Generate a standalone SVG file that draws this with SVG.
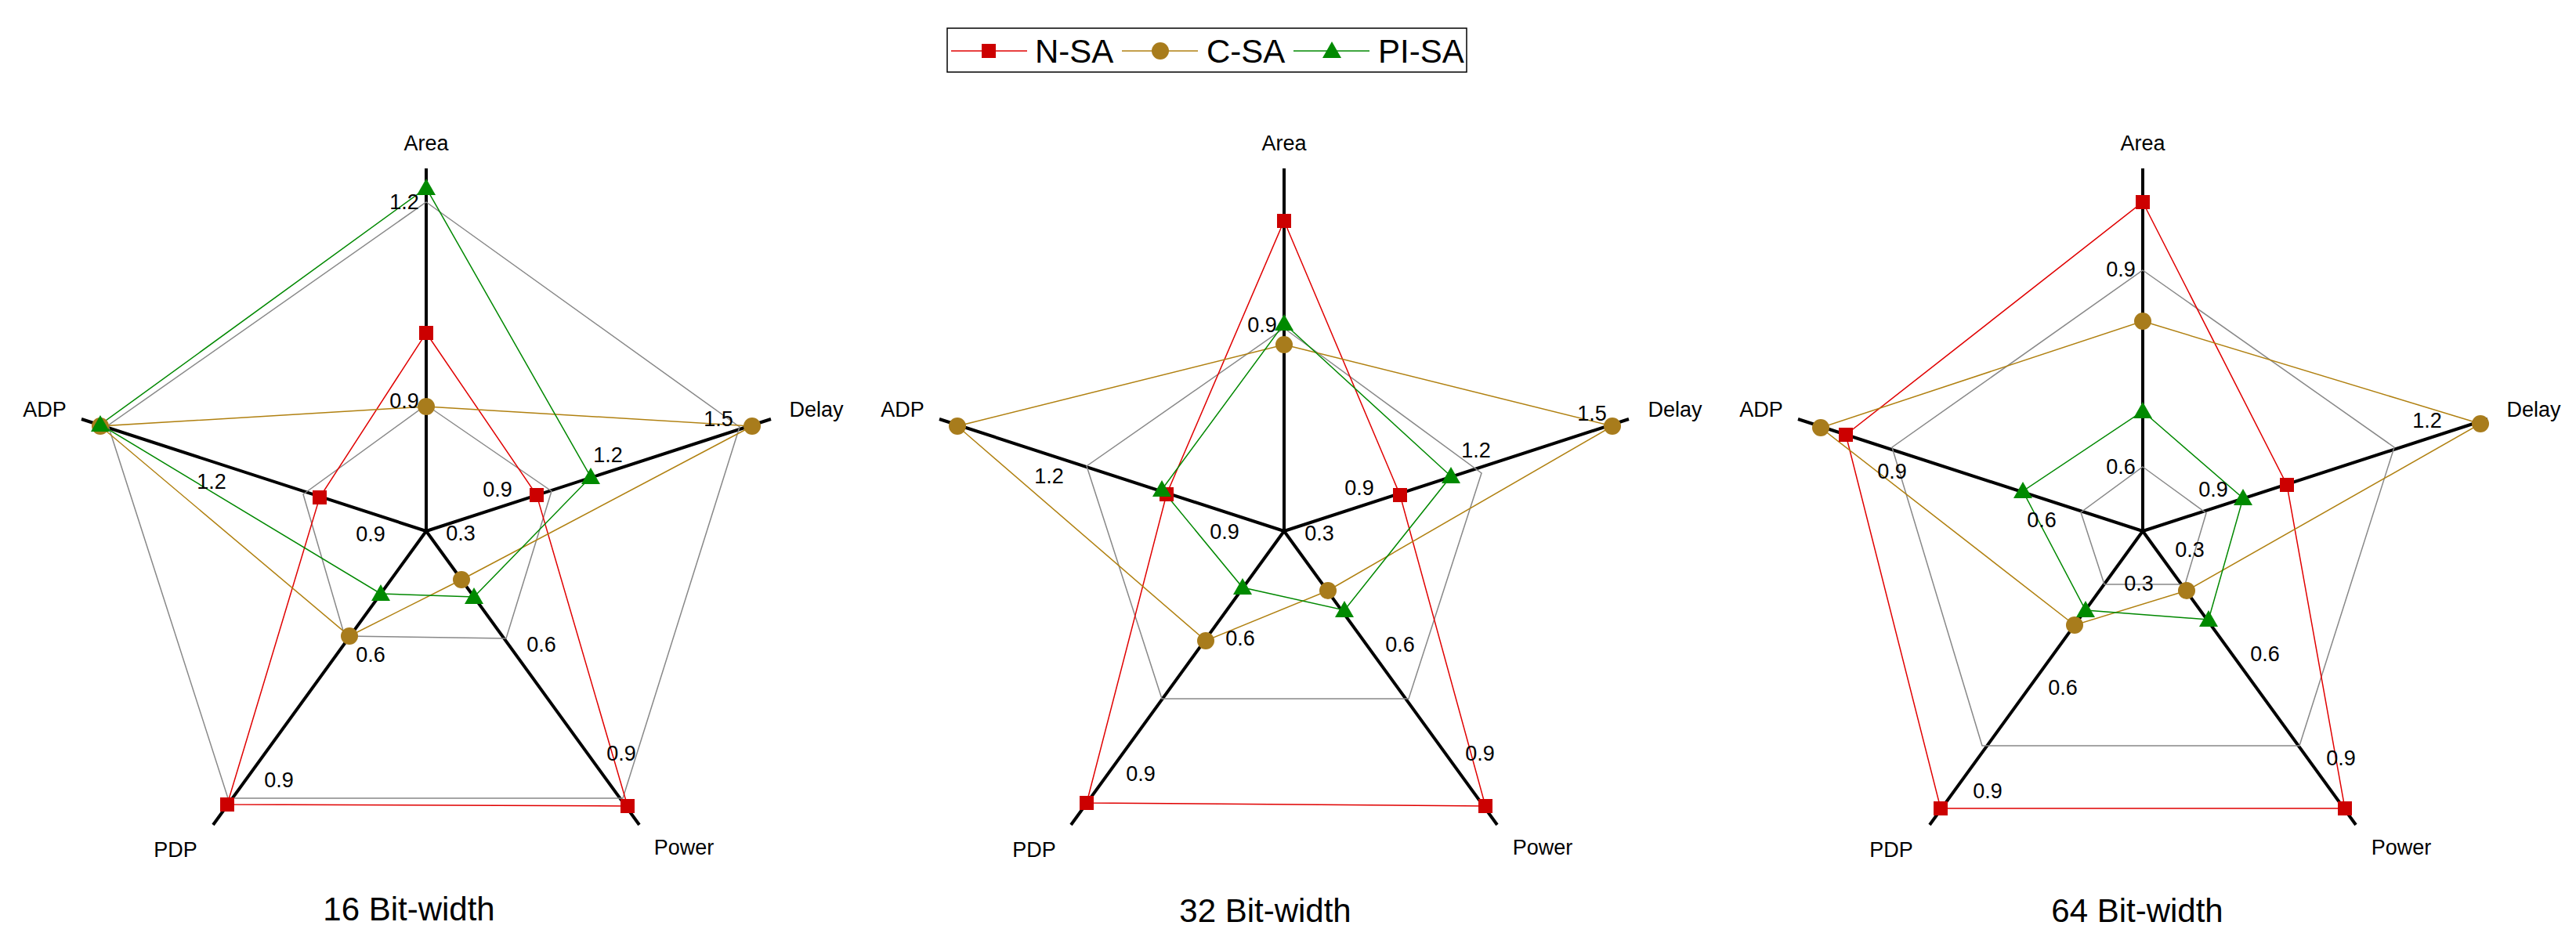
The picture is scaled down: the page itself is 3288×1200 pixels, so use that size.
<svg xmlns="http://www.w3.org/2000/svg" xmlns:xlink="http://www.w3.org/1999/xlink" width="3288" height="1200" viewBox="0 0 3288 1200">
<style>
text{font-family:"Liberation Sans",Arial,sans-serif;fill:#000;dominant-baseline:central}
.ax{stroke:#000;stroke-width:4;fill:none}
.gr{stroke:#888;stroke-width:1.5;fill:none}
.n{stroke:#e00000;stroke-width:1.5;fill:none}
.c{stroke:#b08010;stroke-width:1.5;fill:none}
.p{stroke:#008800;stroke-width:1.5;fill:none}
.tk{font-size:27px;text-anchor:middle}
.lb{font-size:27px;text-anchor:middle}
.tt{font-size:42px;text-anchor:middle}
.lg{font-size:42px}
</style>
<defs>
<rect id="sq" x="-9" y="-9" width="18" height="18" fill="#cc0000"/>
<circle id="ci" r="11" fill="#a87c1c"/>
<polygon id="tr" points="0,-12 12,9 -12,9" fill="#008a00"/>
</defs>
<g id="legend">
<rect x="1209" y="36" width="663" height="56" fill="#fff" stroke="#000" stroke-width="1.5"/>
<line x1="1214" y1="65" x2="1311" y2="65" class="n"/><use xlink:href="#sq" x="1262" y="65"/><text x="1321" y="65" class="lg">N-SA</text>
<line x1="1432" y1="65" x2="1529" y2="65" class="c"/><use xlink:href="#ci" x="1481" y="65"/><text x="1540" y="65" class="lg">C-SA</text>
<line x1="1651" y1="65" x2="1748" y2="65" class="p"/><use xlink:href="#tr" x="1700" y="65"/><text x="1759" y="65" class="lg">PI-SA</text>
</g>
<g id="chart16">
<path class="ax" d="M544,678V215M544,678L984,535M544,678L104,535M544,678L816,1053M544,678L272,1053"/>
<polygon class="gr" points="544,258 944,545 795,1019 291,1019 138,543"/>
<polygon class="gr" points="544,517 704,627 646,815 440,812 387,631"/>
<polygon class="n" points="544,425 685,632 801,1029 290,1027 408,635"/>
<polygon class="c" points="544,519 960,544 589,740 446,812 128,544"/>
<polygon class="p" points="544,240 754,609 605,762 486,758 128,542"/>
<use xlink:href="#sq" x="544" y="425"/><use xlink:href="#sq" x="685" y="632"/><use xlink:href="#sq" x="801" y="1029"/><use xlink:href="#sq" x="290" y="1027"/><use xlink:href="#sq" x="408" y="635"/>
<use xlink:href="#ci" x="544" y="519"/><use xlink:href="#ci" x="960" y="544"/><use xlink:href="#ci" x="589" y="740"/><use xlink:href="#ci" x="446" y="812"/><use xlink:href="#ci" x="128" y="544"/>
<use xlink:href="#tr" x="544" y="240"/><use xlink:href="#tr" x="754" y="609"/><use xlink:href="#tr" x="605" y="762"/><use xlink:href="#tr" x="486" y="758"/><use xlink:href="#tr" x="128" y="542"/>
<text class="tk" x="516" y="258">1.2</text><text class="tk" x="516" y="512">0.9</text><text class="tk" x="917" y="535">1.5</text><text class="tk" x="776" y="581">1.2</text><text class="tk" x="635" y="625">0.9</text><text class="tk" x="588" y="681">0.3</text><text class="tk" x="691" y="823">0.6</text><text class="tk" x="793" y="962">0.9</text><text class="tk" x="356" y="996">0.9</text><text class="tk" x="473" y="836">0.6</text><text class="tk" x="473" y="682">0.9</text><text class="tk" x="270" y="615">1.2</text>
<text class="lb" x="544" y="183">Area</text><text class="lb" x="1042" y="523">Delay</text><text class="lb" x="873" y="1082">Power</text><text class="lb" x="224" y="1085">PDP</text><text class="lb" x="57" y="523">ADP</text>
<text class="tt" x="522" y="1160">16 Bit-width</text>
</g>
<g id="chart32">
<path class="ax" d="M1639,678V215M1639,678L2079,535M1639,678L1199,535M1639,678L1911,1053M1639,678L1367,1053"/>
<polygon class="gr" points="1639,419 1891,604 1798,892 1483,892 1387,595"/>
<polygon class="n" points="1639,282 1787,632 1896,1029 1387,1025 1489,631"/>
<polygon class="c" points="1639,440 2058,544 1695,754 1539,818 1222,544"/>
<polygon class="p" points="1639,413 1852,608 1716,779 1586,750 1483,625"/>
<use xlink:href="#sq" x="1639" y="282"/><use xlink:href="#sq" x="1787" y="632"/><use xlink:href="#sq" x="1896" y="1029"/><use xlink:href="#sq" x="1387" y="1025"/><use xlink:href="#sq" x="1489" y="631"/>
<use xlink:href="#ci" x="1639" y="440"/><use xlink:href="#ci" x="2058" y="544"/><use xlink:href="#ci" x="1695" y="754"/><use xlink:href="#ci" x="1539" y="818"/><use xlink:href="#ci" x="1222" y="544"/>
<use xlink:href="#tr" x="1639" y="413"/><use xlink:href="#tr" x="1852" y="608"/><use xlink:href="#tr" x="1716" y="779"/><use xlink:href="#tr" x="1586" y="750"/><use xlink:href="#tr" x="1483" y="625"/>
<text class="tk" x="1611" y="415">0.9</text><text class="tk" x="2032" y="528">1.5</text><text class="tk" x="1884" y="575">1.2</text><text class="tk" x="1735" y="623">0.9</text><text class="tk" x="1684" y="681">0.3</text><text class="tk" x="1787" y="823">0.6</text><text class="tk" x="1889" y="962">0.9</text><text class="tk" x="1456" y="988">0.9</text><text class="tk" x="1583" y="815">0.6</text><text class="tk" x="1563" y="679">0.9</text><text class="tk" x="1339" y="608">1.2</text>
<text class="lb" x="1639" y="183">Area</text><text class="lb" x="2138" y="523">Delay</text><text class="lb" x="1969" y="1082">Power</text><text class="lb" x="1320" y="1085">PDP</text><text class="lb" x="1152" y="523">ADP</text>
<text class="tt" x="1615" y="1162">32 Bit-width</text>
</g>
<g id="chart64">
<path class="ax" d="M2735,678V215M2735,678L3175,535M2735,678L2295,535M2735,678L3007,1053M2735,678L2463,1053"/>
<polygon class="gr" points="2735,345 3056,571 2935,952 2530,952 2415,571"/>
<polygon class="gr" points="2735,596 2816,655 2789,746 2686,746 2656,654"/>
<polygon class="n" points="2735,258 2919,619 2993,1032 2477,1032 2356,555"/>
<polygon class="c" points="2735,410 3166,541 2791,754 2648,798 2324,546"/>
<polygon class="p" points="2735,525 2863,636 2819,791 2662,779 2582,627"/>
<use xlink:href="#sq" x="2735" y="258"/><use xlink:href="#sq" x="2919" y="619"/><use xlink:href="#sq" x="2993" y="1032"/><use xlink:href="#sq" x="2477" y="1032"/><use xlink:href="#sq" x="2356" y="555"/>
<use xlink:href="#ci" x="2735" y="410"/><use xlink:href="#ci" x="3166" y="541"/><use xlink:href="#ci" x="2791" y="754"/><use xlink:href="#ci" x="2648" y="798"/><use xlink:href="#ci" x="2324" y="546"/>
<use xlink:href="#tr" x="2735" y="525"/><use xlink:href="#tr" x="2863" y="636"/><use xlink:href="#tr" x="2819" y="791"/><use xlink:href="#tr" x="2662" y="779"/><use xlink:href="#tr" x="2582" y="627"/>
<text class="tk" x="2707" y="344">0.9</text><text class="tk" x="2707" y="596">0.6</text><text class="tk" x="3098" y="537">1.2</text><text class="tk" x="2825" y="625">0.9</text><text class="tk" x="2795" y="702">0.3</text><text class="tk" x="2730" y="745">0.3</text><text class="tk" x="2891" y="835">0.6</text><text class="tk" x="2988" y="968">0.9</text><text class="tk" x="2537" y="1010">0.9</text><text class="tk" x="2633" y="878">0.6</text><text class="tk" x="2606" y="664">0.6</text><text class="tk" x="2415" y="602">0.9</text>
<text class="lb" x="2735" y="183">Area</text><text class="lb" x="3234" y="523">Delay</text><text class="lb" x="3065" y="1082">Power</text><text class="lb" x="2414" y="1085">PDP</text><text class="lb" x="2248" y="523">ADP</text>
<text class="tt" x="2728" y="1162">64 Bit-width</text>
</g>
</svg>
